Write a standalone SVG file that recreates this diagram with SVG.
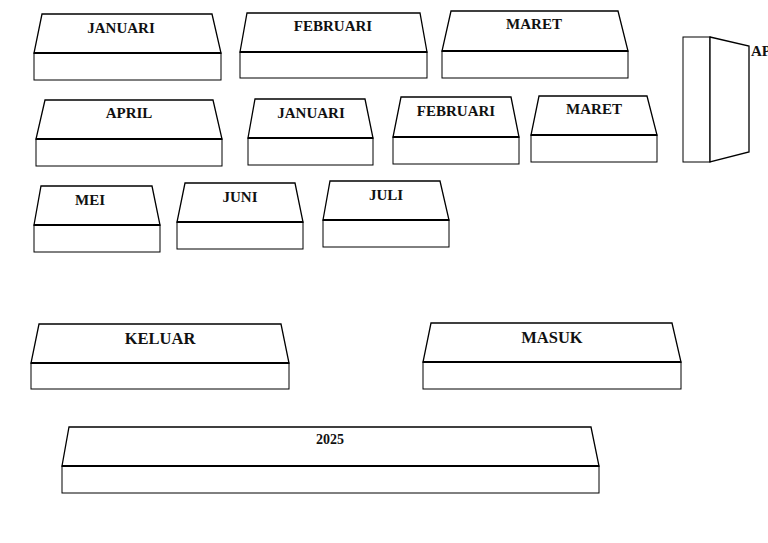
<svg xmlns="http://www.w3.org/2000/svg" width="768" height="543" viewBox="0 0 768 543">
<style>
.top{fill:#fff;stroke:#000;stroke-width:1.3;stroke-linejoin:miter}
.base{fill:#fff;stroke:#000;stroke-width:1}
.edge{stroke:#000;stroke-width:2.2}
.t{font-family:"Liberation Serif","Times New Roman",serif;font-weight:bold;font-size:15px;fill:#111;text-anchor:middle}
.big{font-size:16.5px}
.yr{font-size:14px}
</style>
<rect width="768" height="543" fill="#fff"/>
<g id="jan1"><rect class="base" x="34" y="53" width="187" height="27"/><polygon class="top" points="42,14 212,14 221,53 34,53"/><line class="edge" x1="34" y1="53" x2="221" y2="53"/><text class="t" x="121" y="33">JANUARI</text></g>
<g id="feb1"><rect class="base" x="240" y="52" width="187" height="26"/><polygon class="top" points="247,13 420,13 427,52 240,52"/><line class="edge" x1="240" y1="52" x2="427" y2="52"/><text class="t" x="333" y="31">FEBRUARI</text></g>
<g id="mar1"><rect class="base" x="442" y="51" width="186" height="27"/><polygon class="top" points="451,11 618,11 628,51 442,51"/><line class="edge" x1="442" y1="51" x2="628" y2="51"/><text class="t" x="534" y="29">MARET</text></g>
<g id="apr1"><rect class="base" x="36" y="139" width="186" height="27"/><polygon class="top" points="45,100 213,100 222,139 36,139"/><line class="edge" x1="36" y1="139" x2="222" y2="139"/><text class="t" x="129" y="118">APRIL</text></g>
<g id="jan2"><rect class="base" x="248" y="138" width="125" height="27"/><polygon class="top" points="255,99 365,99 373,138 248,138"/><line class="edge" x1="248" y1="138" x2="373" y2="138"/><text class="t" x="311" y="118">JANUARI</text></g>
<g id="feb2"><rect class="base" x="393" y="137" width="126" height="27"/><polygon class="top" points="401,97 511,97 519,137 393,137"/><line class="edge" x1="393" y1="137" x2="519" y2="137"/><text class="t" x="456" y="116">FEBRUARI</text></g>
<g id="mar2"><rect class="base" x="531" y="135" width="126" height="27"/><polygon class="top" points="539,96 647,96 657,135 531,135"/><line class="edge" x1="531" y1="135" x2="657" y2="135"/><text class="t" x="594" y="114">MARET</text></g>
<g id="apr2"><rect class="base" x="683" y="37" width="27" height="125"/><polygon class="top" points="710,37 749,46 749,152 710,162"/><text class="t" x="751" y="56" style="text-anchor:start">AP</text></g>
<g id="mei"><rect class="base" x="34" y="225" width="126" height="27"/><polygon class="top" points="41,186 152,186 160,225 34,225"/><line class="edge" x1="34" y1="225" x2="160" y2="225"/><text class="t" x="90" y="205">MEI</text></g>
<g id="jun"><rect class="base" x="177" y="222" width="126" height="27"/><polygon class="top" points="185,183 295,183 303,222 177,222"/><line class="edge" x1="177" y1="222" x2="303" y2="222"/><text class="t" x="240" y="202">JUNI</text></g>
<g id="jul"><rect class="base" x="323" y="220" width="126" height="27"/><polygon class="top" points="330,181 440,181 449,220 323,220"/><line class="edge" x1="323" y1="220" x2="449" y2="220"/><text class="t" x="386" y="200">JULI</text></g>
<g id="keluar"><rect class="base" x="31" y="363" width="258" height="26"/><polygon class="top" points="39,324 281,324 289,363 31,363"/><line class="edge" x1="31" y1="363" x2="289" y2="363"/><text class="t big" x="160" y="344">KELUAR</text></g>
<g id="masuk"><rect class="base" x="423" y="362" width="258" height="27"/><polygon class="top" points="431,323 672,323 681,362 423,362"/><line class="edge" x1="423" y1="362" x2="681" y2="362"/><text class="t big" x="552" y="343">MASUK</text></g>
<g id="y2025"><rect class="base" x="62" y="466" width="537" height="27"/><polygon class="top" points="69,427 591,427 599,466 62,466"/><line class="edge" x1="62" y1="466" x2="599" y2="466"/><text class="t yr" x="330" y="444">2025</text></g>
</svg>
